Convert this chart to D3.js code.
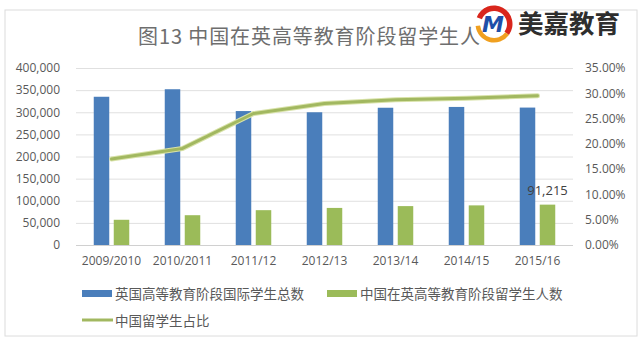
<!DOCTYPE html>
<html><head><meta charset="utf-8">
<script src="https://cdn.jsdelivr.net/npm/d3@7"></script>
<style>body{margin:0;background:#fff}svg{display:block}</style>
</head><body>
<svg id="c" width="642" height="355"></svg>
<script>
const categories = ["2009/2010","2010/2011","2011/12","2012/13","2013/14","2014/15","2015/16"];
const totalIntl = [335000, 352000, 302680, 299970, 310195, 312010, 310575];
const chinaStudents = [56990, 67325, 78715, 83790, 87895, 89540, 91215];
const chinaShare = [0.170, 0.191, 0.260, 0.280, 0.287, 0.290, 0.295];
const leftTicks = [0,50000,100000,150000,200000,250000,300000,350000,400000];
const rightTicks = [0,0.05,0.10,0.15,0.20,0.25,0.30,0.35];
const seriesNames = ["英国高等教育阶段国际学生总数","中国在英高等教育阶段留学生人数","中国留学生占比"];
const titleText = "图13 中国在英高等教育阶段留学生人";
const logoText = "美嘉教育";

const svg = d3.select("#c");
const font = "'Open Sans', 'Noto Sans CJK SC', sans-serif";
const cjk = "'Noto Sans CJK SC', sans-serif";
const blue = "#4a7ebb", green = "#9bbb59", lineC = "#a2b860", txt = "#595959";

svg.append("rect").attr("x",5).attr("y",10).attr("width",632).attr("height",326)
  .attr("fill","#fff").attr("stroke","#dcdcdc");

const x = d3.scaleBand().domain(categories).range([76,573]);
const x1 = d3.scaleBand().domain(["t","c"]).range([0,x.bandwidth()]).paddingInner(0.225).paddingOuter(0.8875);
const y = d3.scaleLinear().domain([0,400000]).range([245,68]);
const y2 = d3.scaleLinear().domain([0,0.35]).range([245,68]);

// gridlines
svg.append("g").selectAll("line").data(leftTicks).join("line")
  .attr("x1",76).attr("x2",573).attr("y1",d=>y(d)+0.5).attr("y2",d=>y(d)+0.5)
  .attr("stroke",d=>d===0?"#d0d0d0":"#e0e0e0").attr("stroke-width",1);

// left axis
const la = svg.append("g").attr("transform","translate(60,0)")
  .call(d3.axisLeft(y).tickValues(leftTicks).tickSize(0).tickPadding(0).tickFormat(d3.format(",")));
la.select(".domain").remove();
la.selectAll("text").attr("font-family",font).attr("font-size",12).attr("fill",txt);

// right axis
const ra = svg.append("g").attr("transform","translate(585,0)")
  .call(d3.axisRight(y2).tickValues(rightTicks).tickSize(0).tickPadding(0).tickFormat(d3.format(".2%")));
ra.select(".domain").remove();
ra.selectAll("text").attr("font-family",font).attr("font-size",12).attr("fill",txt);

// x axis
const xa = svg.append("g").attr("transform","translate(0,254)")
  .call(d3.axisBottom(x).tickSize(0).tickPadding(0));
xa.select(".domain").remove();
xa.selectAll("text").attr("font-family",font).attr("font-size",12).attr("fill",txt).attr("dy","0.95em");

// bars
svg.append("g").selectAll("rect").data(totalIntl).join("rect")
  .attr("x",(d,i)=>x(categories[i])+x1("t")).attr("width",x1.bandwidth())
  .attr("y",d=>y(d)).attr("height",d=>y(0)-y(d)).attr("fill",blue);
svg.append("g").selectAll("rect").data(chinaStudents).join("rect")
  .attr("x",(d,i)=>x(categories[i])+x1("c")).attr("width",x1.bandwidth())
  .attr("y",d=>y(d)).attr("height",d=>y(0)-y(d)).attr("fill",green);

// line
const line = d3.line().x((d,i)=>x(categories[i])+x.bandwidth()/2).y(d=>y2(d));
svg.append("path").datum(chinaShare).attr("d",line).attr("fill","none")
  .attr("stroke","#d8e2a8").attr("stroke-width",5).attr("stroke-linejoin","round").attr("stroke-linecap","round");
svg.append("path").datum(chinaShare).attr("d",line).attr("fill","none")
  .attr("stroke",lineC).attr("stroke-width",3).attr("stroke-linejoin","round").attr("stroke-linecap","round");

// data label
const li = categories.length-1;
svg.append("text").attr("x",x(categories[li])+x1("c")+x1.bandwidth()/2).attr("y",y(chinaStudents[li])-10)
  .attr("text-anchor","middle").attr("font-family",font).attr("font-size",13).attr("fill","#404040")
  .text(d3.format(",")(chinaStudents[li]));

// title
svg.append("text").attr("x",138).attr("y",44).attr("font-family",cjk).attr("font-size",20)
  .attr("letter-spacing",0.9).attr("fill","#6e6e6e").text(titleText);

// legend
const lg = svg.append("g");
lg.append("rect").attr("x",82).attr("y",290).attr("width",30).attr("height",7).attr("fill",blue);
lg.append("text").attr("x",115).attr("y",298.5).attr("font-family",cjk).attr("font-size",13.5).attr("fill",txt).text(seriesNames[0]);
lg.append("rect").attr("x",327).attr("y",290).attr("width",30).attr("height",7).attr("fill",green);
lg.append("text").attr("x",360).attr("y",298.5).attr("font-family",cjk).attr("font-size",13.5).attr("fill",txt).text(seriesNames[1]);
lg.append("line").attr("x1",82).attr("x2",113).attr("y1",320).attr("y2",320).attr("stroke",lineC).attr("stroke-width",3);
lg.append("text").attr("x",115).attr("y",325.5).attr("font-family",cjk).attr("font-size",13.5).attr("fill",txt).text(seriesNames[2]);

// logo
const lgo = svg.append("g").attr("transform","translate(494,24)");
lgo.append("circle").attr("r",18.5).attr("fill","#fff");
lgo.append("path").attr("d",d3.arc()({innerRadius:13,outerRadius:18.5,startAngle:-1.2,endAngle:2.2})).attr("fill","#d9261c");
lgo.append("path").attr("d",d3.arc()({innerRadius:14,outerRadius:18.5,startAngle:2.2,endAngle:4.6})).attr("fill","#f0a020");
lgo.append("text").attr("x",-1).attr("y",8).attr("text-anchor","middle").attr("font-family","'DejaVu Sans', sans-serif")
  .attr("font-weight","bold").attr("font-style","italic").attr("font-size",22).attr("fill","#1f4fa8").text("M");
svg.append("text").attr("x",518).attr("y",33).attr("font-family",cjk).attr("font-weight","bold")
  .attr("font-size",25.5).attr("fill","#2e2e2e").text(logoText);
</script>
</body></html>
